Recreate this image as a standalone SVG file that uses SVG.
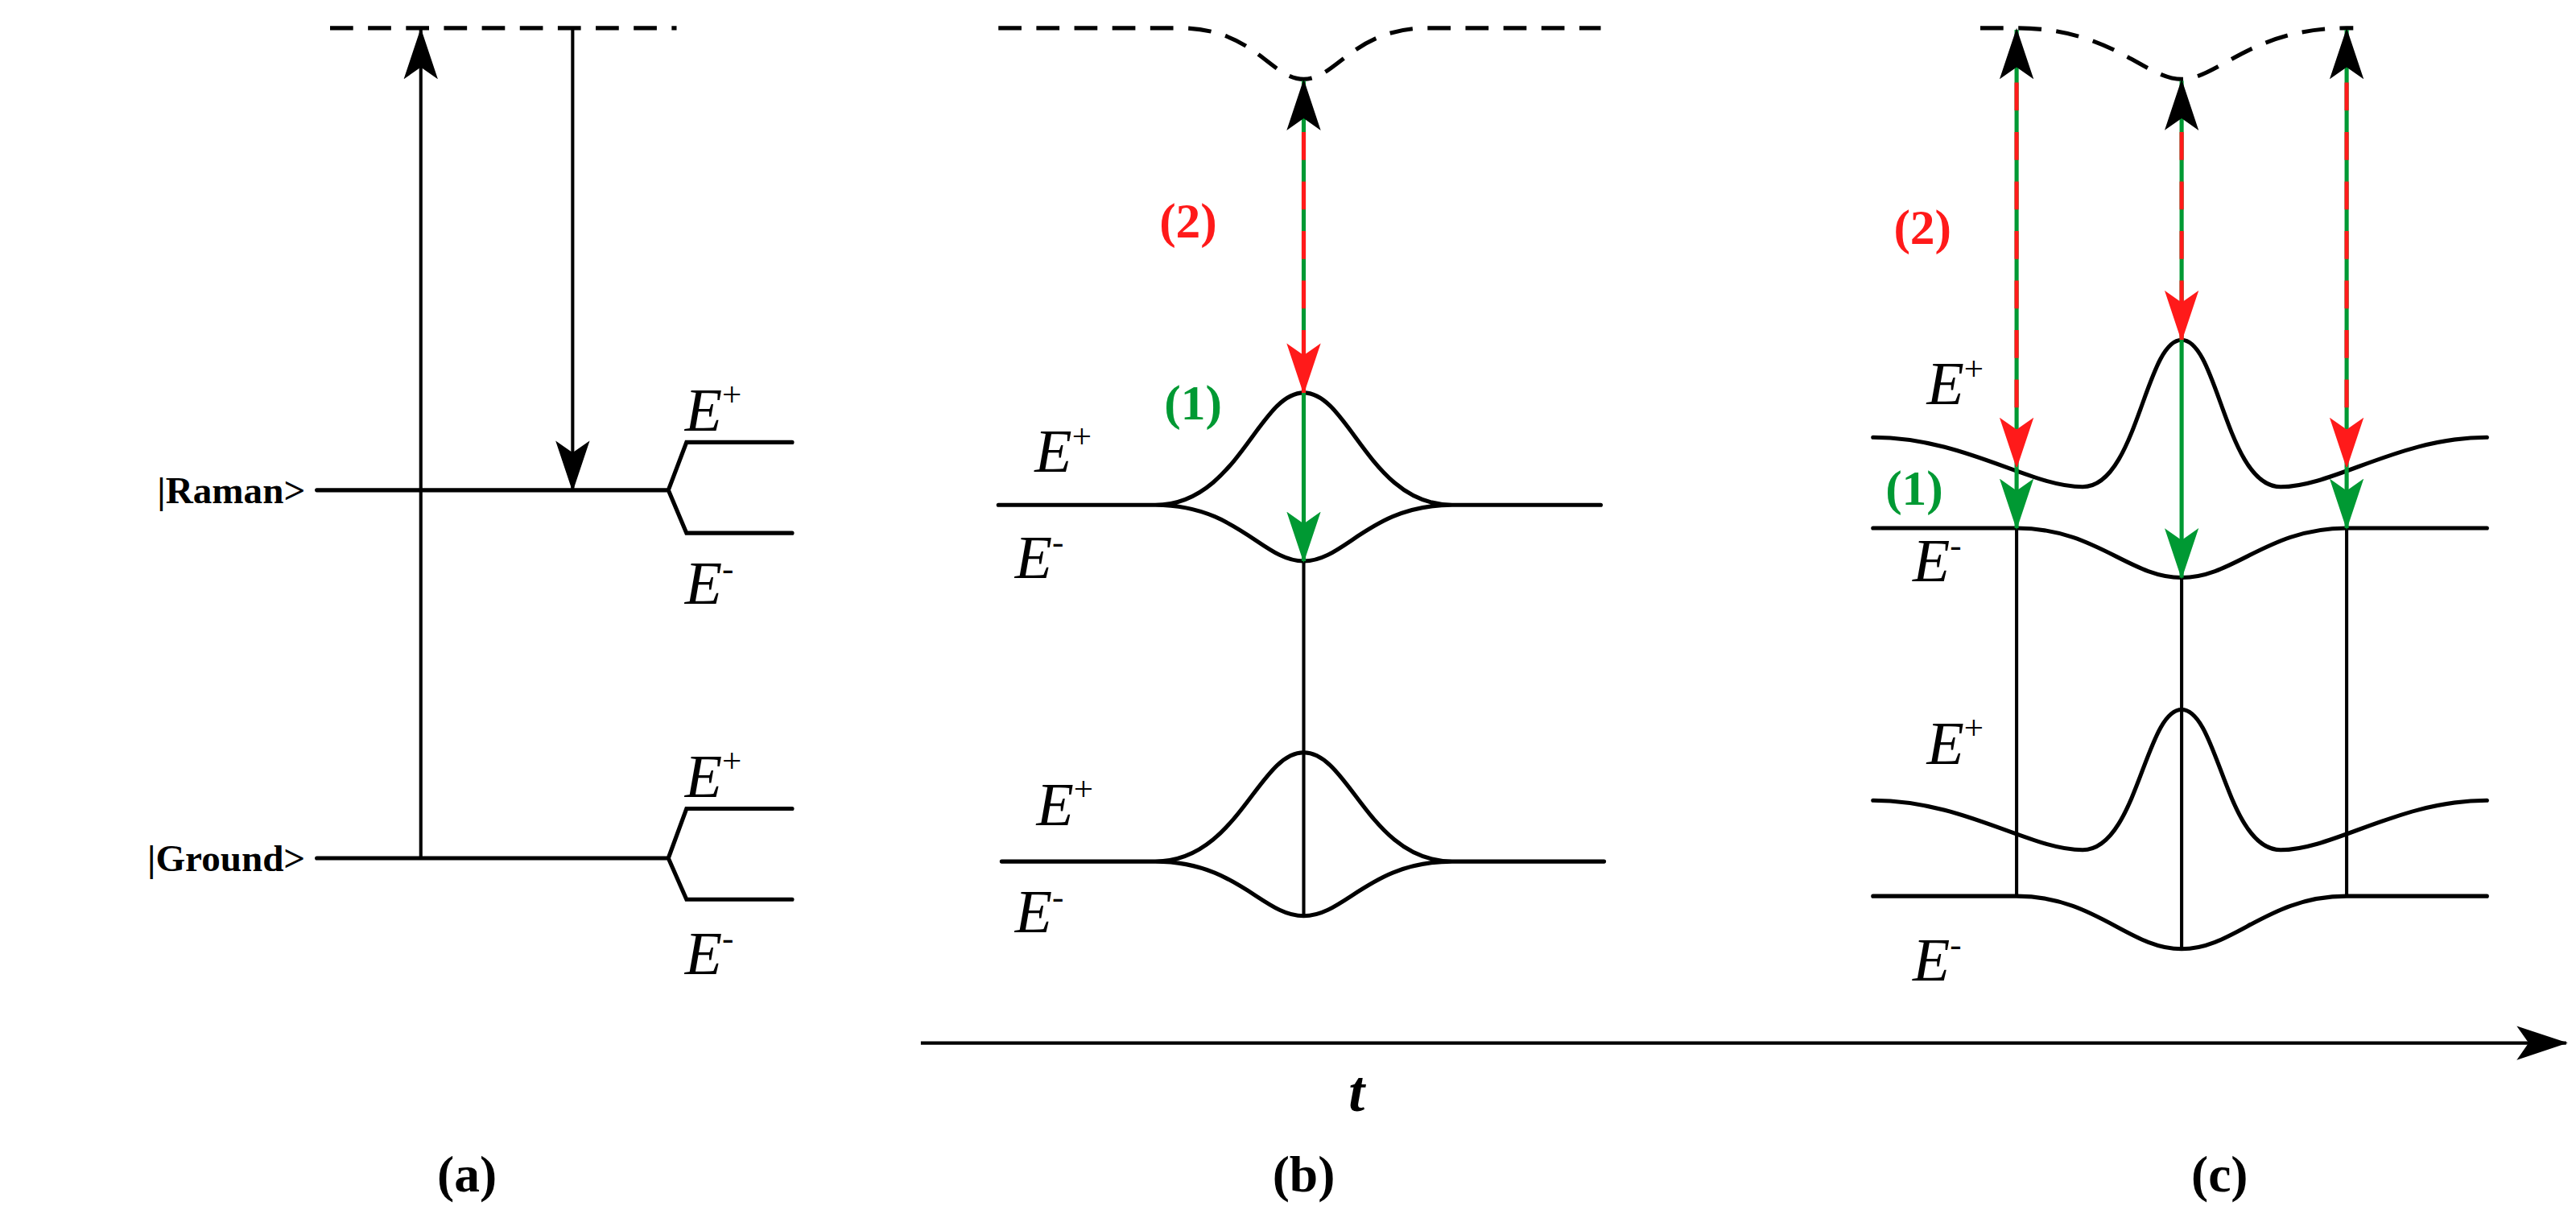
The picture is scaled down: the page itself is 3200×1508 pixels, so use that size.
<svg xmlns="http://www.w3.org/2000/svg" width="3200" height="1508" viewBox="0 0 3200 1508">
<style>
.lv{fill:none;stroke:#000;stroke-width:5;stroke-linecap:round}
.ds{fill:none;stroke:#000;stroke-width:5;stroke-dasharray:28,18}
.ar{stroke:#000;stroke-width:4;fill:none}
.gl{stroke:#009933;stroke-width:5;fill:none}
.rd{stroke:#ff1a1a;stroke-width:5;fill:none;stroke-dasharray:34,26}
.E{font-family:"Liberation Serif",serif;font-style:italic;font-size:74px}
.sup{font-size:42px;font-style:normal}
.st{font-family:"Liberation Serif",serif;font-weight:bold;font-size:46px}
.lab{font-family:"Liberation Serif",serif;font-weight:bold;font-size:62px}
.num{font-family:"Liberation Serif",serif;font-weight:bold;font-size:60px}
</style>
<defs>
<marker id="mk" viewBox="0 0 60 40" refX="58" refY="20" markerWidth="62" markerHeight="42" markerUnits="userSpaceOnUse" orient="auto-start-reverse"><path d="M0,0 L60,20 L0,40 L14,20 z" fill="#000"/></marker>
<marker id="mr" viewBox="0 0 60 40" refX="58" refY="20" markerWidth="62" markerHeight="42" markerUnits="userSpaceOnUse" orient="auto"><path d="M0,0 L60,20 L0,40 L14,20 z" fill="#ff1a1a"/></marker>
<marker id="mg" viewBox="0 0 60 40" refX="58" refY="20" markerWidth="62" markerHeight="42" markerUnits="userSpaceOnUse" orient="auto"><path d="M0,0 L60,20 L0,40 L14,20 z" fill="#009933"/></marker>
</defs>
<g transform="scale(1.025)">
<g id="panel-a">
<path class="ds" d="M400,34 L820,34"/>
<path class="lv" d="M384,594 L810,594 M810,594 L832,536 L960,536 M810,594 L832,646 L960,646"/>
<path class="lv" d="M384,1040 L810,1040 M810,1040 L832,980 L960,980 M810,1040 L832,1090 L960,1090"/>
<text class="st" x="370" y="610" text-anchor="end">|Raman&gt;</text>
<text class="st" x="370" y="1056" text-anchor="end">|Ground&gt;</text>
<text class="E" x="830" y="522">E<tspan class="sup" dy="-30">+</tspan></text>
<text class="E" x="830" y="732">E<tspan class="sup" dy="-30">-</tspan></text>
<text class="E" x="830" y="966">E<tspan class="sup" dy="-30">+</tspan></text>
<text class="E" x="830" y="1180">E<tspan class="sup" dy="-30">-</tspan></text>
<text class="lab" x="566" y="1444" text-anchor="middle">(a)</text>
</g>
<g id="panel-b">
<path class="ds" d="M1210,34 L1430,34 C1520,34 1540,96 1580,96 C1620,96 1640,34 1730,34 L1940,34"/>
<path class="lv" d="M1210,612 L1400,612 C1500,612 1525,476 1580,476 C1635,476 1660,612 1760,612 L1940,612 M1400,612 C1500,612 1530,680 1580,680 C1630,680 1660,612 1760,612"/>
<path class="lv" d="M1214,1044 L1400,1044 C1500,1044 1525,912 1580,912 C1635,912 1660,1044 1760,1044 L1944,1044 M1400,1044 C1500,1044 1530,1110 1580,1110 C1630,1110 1660,1044 1760,1044"/>
<path class="ar" d="M1580,680 L1580,1110"/>
<text class="E" x="1254" y="572">E<tspan class="sup" dy="-30">+</tspan></text>
<text class="E" x="1230" y="700">E<tspan class="sup" dy="-30">-</tspan></text>
<text class="E" x="1256" y="1000">E<tspan class="sup" dy="-30">+</tspan></text>
<text class="E" x="1230" y="1130">E<tspan class="sup" dy="-30">-</tspan></text>
<text class="num" x="1446" y="508" text-anchor="middle" fill="#009933">(1)</text>
<text class="num" x="1440" y="288" text-anchor="middle" fill="#ff1a1a">(2)</text>
<text class="lab" x="1580" y="1444" text-anchor="middle">(b)</text>
</g>
<g id="panel-c">
<path class="ds" d="M2400,34 L2444,34 C2560,34 2600,96 2644,96 C2688,96 2728,34 2844,34 L2852,34"/>
<path class="lv" d="M2270,530 C2380,530 2460,590 2524,590 C2590,590 2600,412 2644,412 C2688,412 2698,590 2764,590 C2828,590 2908,530 3014,530"/>
<path class="lv" d="M2270,640 L2444,640 C2540,640 2580,700 2644,700 C2708,700 2748,640 2844,640 L3014,640"/>
<path class="lv" d="M2270,970 C2380,970 2460,1030 2524,1030 C2590,1030 2600,860 2644,860 C2688,860 2698,1030 2764,1030 C2828,1030 2908,970 3014,970"/>
<path class="lv" d="M2270,1086 L2444,1086 C2540,1086 2580,1150 2644,1150 C2708,1150 2748,1086 2844,1086 L3014,1086"/>
<path class="ar" d="M2444,640 L2444,1086 M2644,700 L2644,1150 M2844,640 L2844,1086"/>
<text class="num" x="2330" y="296" text-anchor="middle" fill="#ff1a1a">(2)</text>
<text class="E" x="2335" y="490">E<tspan class="sup" dy="-30">+</tspan></text>
<text class="num" x="2320" y="612" text-anchor="middle" fill="#009933">(1)</text>
<text class="E" x="2318" y="704">E<tspan class="sup" dy="-30">-</tspan></text>
<text class="E" x="2335" y="926">E<tspan class="sup" dy="-30">+</tspan></text>
<text class="E" x="2318" y="1188">E<tspan class="sup" dy="-30">-</tspan></text>
<text class="lab" x="2690" y="1444" text-anchor="middle">(c)</text>
</g>
<g id="axis">
<path class="ar" d="M1116,1264 L3110,1264" marker-end="url(#mk)"/>
<text x="1644" y="1346" font-family="Liberation Serif,serif" font-style="italic" font-weight="bold" font-size="70" text-anchor="middle">t</text>
</g>
<g id="connectors">
<path class="ar" d="M510,1040 L510,36" marker-end="url(#mk)"/>
<path class="ar" d="M694,36 L694,594" marker-end="url(#mk)"/>
<path class="gl" d="M1580,98 L1580,476" marker-start="url(#mk)"/>
<path class="rd" d="M1580,160 L1580,476" marker-end="url(#mr)"/>
<path class="gl" d="M1580,476 L1580,680" marker-end="url(#mg)"/>
<path class="gl" d="M2444,36 L2444,566" marker-start="url(#mk)"/>
<path class="rd" d="M2444,100 L2444,566" marker-end="url(#mr)"/>
<path class="gl" d="M2444,566 L2444,640" marker-end="url(#mg)"/>
<path class="gl" d="M2644,98 L2644,412" marker-start="url(#mk)"/>
<path class="rd" d="M2644,160 L2644,412" marker-end="url(#mr)"/>
<path class="gl" d="M2644,412 L2644,700" marker-end="url(#mg)"/>
<path class="gl" d="M2844,36 L2844,566" marker-start="url(#mk)"/>
<path class="rd" d="M2844,100 L2844,566" marker-end="url(#mr)"/>
<path class="gl" d="M2844,566 L2844,640" marker-end="url(#mg)"/>
</g>
</g>
</svg>
